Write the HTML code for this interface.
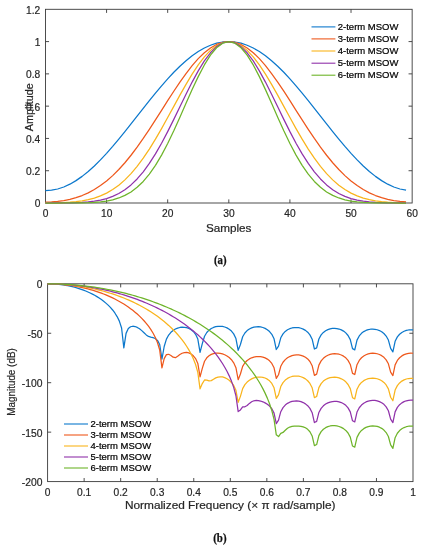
<!DOCTYPE html>
<html lang="en"><head><meta charset="utf-8"><title>MSOW windows</title>
<style>html,body{margin:0;padding:0;background:#fff}body{width:422px;height:550px;overflow:hidden}svg{display:block}</style></head>
<body>
<svg width="422" height="550" viewBox="0 0 422 550">
<defs><clipPath id="ca"><rect x="44.45" y="8.3" width="368.7" height="195.7"/></clipPath><clipPath id="cb"><rect x="46.6" y="282.8" width="367.4" height="199.8"/></clipPath></defs>
<rect width="422" height="550" fill="#fff"/>
<g stroke="#3a3a3a" stroke-width="0.9" fill="none">
<rect x="45.45" y="9.3" width="366.7" height="193.7"/>
<path d="M106.57 203v-3.6 M106.57 9.3v3.6 M167.68 203v-3.6 M167.68 9.3v3.6 M228.8 203v-3.6 M228.8 9.3v3.6 M289.92 203v-3.6 M289.92 9.3v3.6 M351.03 203v-3.6 M351.03 9.3v3.6 M45.45 170.72h3.6 M412.15 170.72h-3.6 M45.45 138.43h3.6 M412.15 138.43h-3.6 M45.45 106.15h3.6 M412.15 106.15h-3.6 M45.45 73.87h3.6 M412.15 73.87h-3.6 M45.45 41.58h3.6 M412.15 41.58h-3.6 "/>
</g>
<g fill="none" stroke-width="1.25" stroke-linejoin="round" clip-path="url(#ca)">
<path stroke="#0C78CC" d="M45.45 190.62 L51.56 190.21 L57.67 188.99 L63.78 186.97 L69.9 184.17 L76.01 180.63 L82.12 176.38 L88.23 171.48 L94.34 165.96 L100.45 159.9 L106.57 153.36 L112.68 146.41 L118.79 139.13 L124.9 131.59 L131.01 123.89 L137.12 116.1 L143.24 108.31 L149.35 100.61 L155.46 93.07 L161.57 85.79 L167.68 78.84 L173.8 72.3 L179.91 66.24 L186.02 60.72 L192.13 55.81 L198.24 51.57 L204.35 48.03 L210.46 45.23 L216.58 43.21 L222.69 41.99 L228.8 41.58 L234.91 41.99 L241.02 43.21 L247.13 45.23 L253.25 48.03 L259.36 51.57 L265.47 55.81 L271.58 60.72 L277.69 66.24 L283.81 72.3 L289.92 78.84 L296.03 85.79 L302.14 93.07 L308.25 100.61 L314.36 108.31 L320.47 116.1 L326.59 123.89 L332.7 131.59 L338.81 139.13 L344.92 146.41 L351.03 153.36 L357.14 159.9 L363.26 165.96 L369.37 171.48 L375.48 176.38 L381.59 180.63 L387.7 184.17 L393.81 186.97 L399.93 188.99 L406.04 190.21"/>
<path stroke="#EE581C" d="M45.45 202.14 L51.56 201.98 L57.67 201.48 L63.78 200.63 L69.9 199.38 L76.01 197.7 L82.12 195.54 L88.23 192.84 L94.34 189.54 L100.45 185.59 L106.57 180.96 L112.68 175.61 L118.79 169.53 L124.9 162.73 L131.01 155.25 L137.12 147.13 L143.24 138.47 L149.35 129.35 L155.46 119.91 L161.57 110.3 L167.68 100.68 L173.8 91.22 L179.91 82.1 L186.02 73.52 L192.13 65.65 L198.24 58.66 L204.35 52.7 L210.46 47.93 L216.58 44.43 L222.69 42.3 L228.8 41.58 L234.91 42.3 L241.02 44.43 L247.13 47.93 L253.25 52.7 L259.36 58.66 L265.47 65.65 L271.58 73.52 L277.69 82.1 L283.81 91.22 L289.92 100.68 L296.03 110.3 L302.14 119.91 L308.25 129.35 L314.36 138.47 L320.47 147.13 L326.59 155.25 L332.7 162.73 L338.81 169.53 L344.92 175.61 L351.03 180.96 L357.14 185.59 L363.26 189.54 L369.37 192.84 L375.48 195.54 L381.59 197.7 L387.7 199.38 L393.81 200.63 L399.93 201.48 L406.04 201.98"/>
<path stroke="#F9B41C" d="M45.45 202.94 L51.56 202.91 L57.67 202.79 L63.78 202.58 L69.9 202.22 L76.01 201.67 L82.12 200.85 L88.23 199.68 L94.34 198.06 L100.45 195.9 L106.57 193.1 L112.68 189.55 L118.79 185.16 L124.9 179.86 L131.01 173.6 L137.12 166.36 L143.24 158.16 L149.35 149.05 L155.46 139.14 L161.57 128.58 L167.68 117.57 L173.8 106.35 L179.91 95.17 L186.02 84.34 L192.13 74.15 L198.24 64.9 L204.35 56.89 L210.46 50.37 L216.58 45.54 L222.69 42.58 L228.8 41.58 L234.91 42.58 L241.02 45.54 L247.13 50.37 L253.25 56.89 L259.36 64.9 L265.47 74.15 L271.58 84.34 L277.69 95.17 L283.81 106.35 L289.92 117.57 L296.03 128.58 L302.14 139.14 L308.25 149.05 L314.36 158.16 L320.47 166.36 L326.59 173.6 L332.7 179.86 L338.81 185.16 L344.92 189.55 L351.03 193.1 L357.14 195.9 L363.26 198.06 L369.37 199.68 L375.48 200.85 L381.59 201.67 L387.7 202.22 L393.81 202.58 L399.93 202.79 L406.04 202.91"/>
<path stroke="#9032AA" d="M45.45 203 L51.56 202.99 L57.67 202.97 L63.78 202.93 L69.9 202.84 L76.01 202.67 L82.12 202.39 L88.23 201.92 L94.34 201.19 L100.45 200.11 L106.57 198.55 L112.68 196.39 L118.79 193.48 L124.9 189.7 L131.01 184.89 L137.12 178.96 L143.24 171.82 L149.35 163.46 L155.46 153.89 L161.57 143.23 L167.68 131.64 L173.8 119.39 L179.91 106.78 L186.02 94.21 L192.13 82.09 L198.24 70.85 L204.35 60.94 L210.46 52.76 L216.58 46.64 L222.69 42.86 L228.8 41.58 L234.91 42.86 L241.02 46.64 L247.13 52.76 L253.25 60.94 L259.36 70.85 L265.47 82.09 L271.58 94.21 L277.69 106.78 L283.81 119.39 L289.92 131.64 L296.03 143.23 L302.14 153.89 L308.25 163.46 L314.36 171.82 L320.47 178.96 L326.59 184.89 L332.7 189.7 L338.81 193.48 L344.92 196.39 L351.03 198.55 L357.14 200.11 L363.26 201.19 L369.37 201.92 L375.48 202.39 L381.59 202.67 L387.7 202.84 L393.81 202.93 L399.93 202.97 L406.04 202.99"/>
<path stroke="#6EB42A" d="M45.45 203 L51.56 203 L57.67 203 L63.78 202.99 L69.9 202.97 L76.01 202.92 L82.12 202.83 L88.23 202.66 L94.34 202.35 L100.45 201.84 L106.57 201.03 L112.68 199.79 L118.79 197.97 L124.9 195.41 L131.01 191.92 L137.12 187.32 L143.24 181.43 L149.35 174.13 L155.46 165.36 L161.57 155.12 L167.68 143.53 L173.8 130.8 L179.91 117.26 L186.02 103.36 L192.13 89.62 L198.24 76.61 L204.35 64.92 L210.46 55.13 L216.58 47.75 L222.69 43.15 L228.8 41.58 L234.91 43.15 L241.02 47.75 L247.13 55.13 L253.25 64.92 L259.36 76.61 L265.47 89.62 L271.58 103.36 L277.69 117.26 L283.81 130.8 L289.92 143.53 L296.03 155.12 L302.14 165.36 L308.25 174.13 L314.36 181.43 L320.47 187.32 L326.59 191.92 L332.7 195.41 L338.81 197.97 L344.92 199.79 L351.03 201.03 L357.14 201.84 L363.26 202.35 L369.37 202.66 L375.48 202.83 L381.59 202.92 L387.7 202.97 L393.81 202.99 L399.93 203 L406.04 203"/>
</g>
<g stroke="#3a3a3a" stroke-width="0.9" fill="none">
<rect x="47.6" y="283.8" width="365.4" height="197.8"/>
<path d="M84.14 481.6v-3.6 M84.14 283.8v3.6 M120.68 481.6v-3.6 M120.68 283.8v3.6 M157.22 481.6v-3.6 M157.22 283.8v3.6 M193.76 481.6v-3.6 M193.76 283.8v3.6 M230.3 481.6v-3.6 M230.3 283.8v3.6 M266.84 481.6v-3.6 M266.84 283.8v3.6 M303.38 481.6v-3.6 M303.38 283.8v3.6 M339.92 481.6v-3.6 M339.92 283.8v3.6 M376.46 481.6v-3.6 M376.46 283.8v3.6 M47.6 333.25h3.6 M413 333.25h-3.6 M47.6 382.7h3.6 M413 382.7h-3.6 M47.6 432.15h3.6 M413 432.15h-3.6 "/>
</g>
<g fill="none" stroke-width="1.25" stroke-linejoin="round" clip-path="url(#cb)">
<path stroke="#0C78CC" d="M47.6 283.8 L49.84 283.82 L52.08 283.89 L54.33 284.01 L56.57 284.17 L58.81 284.38 L61.05 284.64 L63.29 284.95 L65.54 285.31 L67.78 285.72 L70.02 286.18 L72.26 286.69 L74.5 287.26 L76.75 287.89 L78.99 288.57 L81.23 289.32 L83.47 290.13 L85.72 291.01 L87.96 291.97 L90.2 293 L92.44 294.12 L94.68 295.32 L96.93 296.63 L99.17 298.05 L101.41 299.58 L103.65 301.26 L105.89 303.11 L108.14 305.14 L110.38 307.41 L112.62 309.99 L114.86 312.97 L117.1 316.55 L119.35 321.14 L121.59 327.96 L123.83 347.84 L126.07 333.37 L128.31 328.53 L130.56 326.74 L132.8 326.24 L135.04 326.53 L137.28 327.41 L139.52 328.81 L141.77 330.64 L144.01 332.78 L146.25 334.9 L148.49 336.46 L150.74 337.21 L152.98 337.66 L155.22 338.51 L157.46 340.41 L159.7 344.52 L161.95 359.05 L164.19 346.5 L166.43 339.1 L168.67 335.05 L170.91 332.34 L173.16 330.41 L175.4 329.04 L177.64 328.08 L179.88 327.49 L182.12 327.23 L184.37 327.29 L186.61 327.68 L188.85 328.44 L191.09 329.65 L193.33 331.48 L195.58 334.27 L197.82 339.03 L200.06 352.29 L202.3 343.57 L204.54 336.27 L206.79 332.55 L209.03 330.17 L211.27 328.55 L213.51 327.44 L215.75 326.72 L218 326.33 L220.24 326.25 L222.48 326.47 L224.72 326.99 L226.97 327.87 L229.21 329.18 L231.45 331.07 L233.69 333.88 L235.93 338.53 L238.18 350.39 L240.42 344.48 L242.66 336.76 L244.9 332.97 L247.14 330.58 L249.39 328.97 L251.63 327.87 L253.87 327.17 L256.11 326.81 L258.35 326.74 L260.6 326.97 L262.84 327.5 L265.08 328.38 L267.32 329.68 L269.56 331.55 L271.81 334.3 L274.05 338.79 L276.29 349.51 L278.53 346.08 L280.77 337.81 L283.02 333.89 L285.26 331.45 L287.5 329.81 L289.74 328.69 L291.99 327.98 L294.23 327.6 L296.47 327.52 L298.71 327.73 L300.95 328.25 L303.2 329.11 L305.44 330.38 L307.68 332.21 L309.92 334.89 L312.16 339.21 L314.41 349 L316.65 347.9 L318.89 338.98 L321.13 334.91 L323.37 332.41 L325.62 330.72 L327.86 329.57 L330.1 328.83 L332.34 328.43 L334.58 328.33 L336.83 328.53 L339.07 329.02 L341.31 329.86 L343.55 331.1 L345.79 332.88 L348.04 335.48 L350.28 339.64 L352.52 348.66 L354.76 349.85 L357.01 340.15 L359.25 335.93 L361.49 333.34 L363.73 331.61 L365.97 330.43 L368.22 329.66 L370.46 329.24 L372.7 329.12 L374.94 329.29 L377.18 329.76 L379.43 330.57 L381.67 331.77 L383.91 333.51 L386.15 336.04 L388.39 340.05 L390.64 348.41 L392.88 351.93 L395.12 341.29 L397.36 336.89 L399.6 334.23 L401.85 332.45 L404.09 331.24 L406.33 330.44 L408.57 329.99 L410.81 329.85 L413.06 329.99"/>
<path stroke="#EE581C" d="M47.6 283.8 L49.84 283.82 L52.08 283.86 L54.33 283.94 L56.57 284.05 L58.81 284.18 L61.05 284.35 L63.29 284.55 L65.54 284.79 L67.78 285.05 L70.02 285.35 L72.26 285.67 L74.5 286.04 L76.75 286.43 L78.99 286.86 L81.23 287.32 L83.47 287.82 L85.72 288.35 L87.96 288.93 L90.2 289.53 L92.44 290.18 L94.68 290.86 L96.93 291.59 L99.17 292.36 L101.41 293.17 L103.65 294.02 L105.89 294.93 L108.14 295.88 L110.38 296.88 L112.62 297.93 L114.86 299.04 L117.1 300.2 L119.35 301.43 L121.59 302.72 L123.83 304.09 L126.07 305.53 L128.31 307.04 L130.56 308.65 L132.8 310.35 L135.04 312.16 L137.28 314.08 L139.52 316.14 L141.77 318.35 L144.01 320.74 L146.25 323.34 L148.49 326.19 L150.74 329.38 L152.98 332.99 L155.22 337.24 L157.46 342.52 L159.7 349.97 L161.95 367.8 L164.19 358.6 L166.43 354.66 L168.67 354.28 L170.91 355.45 L173.16 357.18 L175.4 357.71 L177.64 356.32 L179.88 354.54 L182.12 353.25 L184.37 352.57 L186.61 352.47 L188.85 352.93 L191.09 353.99 L193.33 355.77 L195.58 358.59 L197.82 363.46 L200.06 376.87 L202.3 368.35 L204.54 361.28 L206.79 357.81 L209.03 355.72 L211.27 354.39 L213.51 353.59 L215.75 353.19 L218 353.13 L220.24 353.37 L222.48 353.91 L224.72 354.76 L226.97 355.94 L229.21 357.55 L231.45 359.72 L233.69 362.78 L235.93 367.67 L238.18 379.74 L240.42 374.01 L242.66 366.43 L244.9 362.76 L247.14 360.45 L249.39 358.89 L251.63 357.81 L253.87 357.1 L256.11 356.7 L258.35 356.57 L260.6 356.72 L262.84 357.15 L265.08 357.92 L267.32 359.09 L269.56 360.82 L271.81 363.42 L274.05 367.76 L276.29 378.32 L278.53 374.73 L280.77 366.3 L283.02 362.22 L285.26 359.62 L287.5 357.82 L289.74 356.55 L291.99 355.68 L294.23 355.15 L296.47 354.92 L298.71 354.99 L300.95 355.37 L303.2 356.09 L305.44 357.23 L307.68 358.92 L309.92 361.47 L312.16 365.67 L314.41 375.34 L316.65 374.12 L318.89 365.08 L321.13 360.91 L323.37 358.29 L325.62 356.5 L327.86 355.25 L330.1 354.41 L332.34 353.91 L334.58 353.72 L336.83 353.82 L339.07 354.23 L341.31 354.97 L343.55 356.13 L345.79 357.83 L348.04 360.35 L350.28 364.43 L352.52 373.38 L354.76 374.49 L357.01 364.72 L359.25 360.43 L361.49 357.77 L363.73 355.98 L365.97 354.73 L368.22 353.9 L370.46 353.42 L372.7 353.24 L374.94 353.35 L377.18 353.76 L379.43 354.52 L381.67 355.67 L383.91 357.35 L386.15 359.83 L388.39 363.79 L390.64 372.1 L392.88 375.57 L395.12 364.89 L397.36 360.44 L399.6 357.73 L401.85 355.91 L404.09 354.65 L406.33 353.82 L408.57 353.33 L410.81 353.14 L413.06 353.25"/>
<path stroke="#F9B41C" d="M47.6 283.8 L49.84 283.81 L52.08 283.85 L54.33 283.9 L56.57 283.98 L58.81 284.09 L61.05 284.22 L63.29 284.37 L65.54 284.54 L67.78 284.74 L70.02 284.96 L72.26 285.2 L74.5 285.47 L76.75 285.76 L78.99 286.08 L81.23 286.42 L83.47 286.79 L85.72 287.18 L87.96 287.6 L90.2 288.04 L92.44 288.51 L94.68 289 L96.93 289.52 L99.17 290.07 L101.41 290.65 L103.65 291.25 L105.89 291.88 L108.14 292.54 L110.38 293.23 L112.62 293.96 L114.86 294.71 L117.1 295.49 L119.35 296.31 L121.59 297.16 L123.83 298.04 L126.07 298.96 L128.31 299.92 L130.56 300.91 L132.8 301.94 L135.04 303.02 L137.28 304.13 L139.52 305.29 L141.77 306.49 L144.01 307.74 L146.25 309.04 L148.49 310.38 L150.74 311.79 L152.98 313.25 L155.22 314.77 L157.46 316.35 L159.7 318.01 L161.95 319.73 L164.19 321.54 L166.43 323.43 L168.67 325.41 L170.91 327.5 L173.16 329.7 L175.4 332.02 L177.64 334.48 L179.88 337.11 L182.12 339.92 L184.37 342.96 L186.61 346.26 L188.85 349.91 L191.09 354.01 L193.33 358.75 L195.58 364.52 L197.82 372.37 L200.06 388.87 L202.3 383.61 L204.54 379.99 L206.79 380.04 L209.03 380.85 L211.27 380.59 L213.51 379.25 L215.75 377.91 L218 377.07 L220.24 376.77 L222.48 376.96 L224.72 377.62 L226.97 378.72 L229.21 380.29 L231.45 382.45 L233.69 385.49 L235.93 390.32 L238.18 402.27 L240.42 396.37 L242.66 388.57 L244.9 384.64 L247.14 382.06 L249.39 380.22 L251.63 378.88 L253.87 377.92 L256.11 377.31 L258.35 377 L260.6 377 L262.84 377.32 L265.08 378.01 L267.32 379.13 L269.56 380.84 L271.81 383.45 L274.05 387.81 L276.29 398.42 L278.53 394.9 L280.77 386.55 L283.02 382.57 L285.26 380.07 L287.5 378.38 L289.74 377.23 L291.99 376.49 L294.23 376.1 L296.47 376.01 L298.71 376.22 L300.95 376.74 L303.2 377.61 L305.44 378.89 L307.68 380.73 L309.92 383.43 L312.16 387.78 L314.41 397.59 L316.65 396.52 L318.89 387.63 L321.13 383.59 L323.37 381.12 L325.62 379.46 L327.86 378.35 L330.1 377.64 L332.34 377.27 L334.58 377.2 L336.83 377.42 L339.07 377.94 L341.31 378.8 L343.55 380.06 L345.79 381.86 L348.04 384.48 L350.28 388.66 L352.52 397.69 L354.76 398.89 L357.01 389.2 L359.25 384.98 L361.49 382.4 L363.73 380.67 L365.97 379.48 L368.22 378.71 L370.46 378.28 L372.7 378.14 L374.94 378.3 L377.18 378.75 L379.43 379.54 L381.67 380.73 L383.91 382.44 L386.15 384.94 L388.39 388.92 L390.64 397.25 L392.88 400.73 L395.12 390.06 L397.36 385.63 L399.6 382.92 L401.85 381.1 L404.09 379.85 L406.33 379.01 L408.57 378.51 L410.81 378.32 L413.06 378.42"/>
<path stroke="#9032AA" d="M47.6 283.8 L49.84 283.81 L52.08 283.84 L54.33 283.88 L56.57 283.95 L58.81 284.03 L61.05 284.13 L63.29 284.25 L65.54 284.39 L67.78 284.55 L70.02 284.72 L72.26 284.92 L74.5 285.13 L76.75 285.37 L78.99 285.62 L81.23 285.89 L83.47 286.18 L85.72 286.49 L87.96 286.82 L90.2 287.17 L92.44 287.54 L94.68 287.93 L96.93 288.34 L99.17 288.77 L101.41 289.22 L103.65 289.69 L105.89 290.18 L108.14 290.69 L110.38 291.23 L112.62 291.78 L114.86 292.36 L117.1 292.97 L119.35 293.59 L121.59 294.24 L123.83 294.91 L126.07 295.6 L128.31 296.32 L130.56 297.06 L132.8 297.83 L135.04 298.63 L137.28 299.45 L139.52 300.3 L141.77 301.17 L144.01 302.07 L146.25 303 L148.49 303.96 L150.74 304.95 L152.98 305.97 L155.22 307.03 L157.46 308.11 L159.7 309.23 L161.95 310.38 L164.19 311.57 L166.43 312.8 L168.67 314.06 L170.91 315.36 L173.16 316.71 L175.4 318.09 L177.64 319.52 L179.88 321 L182.12 322.53 L184.37 324.11 L186.61 325.74 L188.85 327.42 L191.09 329.17 L193.33 330.98 L195.58 332.86 L197.82 334.81 L200.06 336.84 L202.3 338.96 L204.54 341.16 L206.79 343.46 L209.03 345.87 L211.27 348.4 L213.51 351.07 L215.75 353.88 L218 356.87 L220.24 360.06 L222.48 363.49 L224.72 367.21 L226.97 371.3 L229.21 375.86 L231.45 381.1 L233.69 387.4 L235.93 395.74 L238.18 411.57 L240.42 409.98 L242.66 406.81 L244.9 406.78 L247.14 405.54 L249.39 403.4 L251.63 401.74 L253.87 400.79 L256.11 400.44 L258.35 400.56 L260.6 401.03 L262.84 401.8 L265.08 402.86 L267.32 404.24 L269.56 406.1 L271.81 408.76 L274.05 413.12 L276.29 423.69 L278.53 420.1 L280.77 411.68 L283.02 407.63 L285.26 405.08 L287.5 403.36 L289.74 402.18 L291.99 401.43 L294.23 401.03 L296.47 400.95 L298.71 401.17 L300.95 401.7 L303.2 402.58 L305.44 403.87 L307.68 405.72 L309.92 408.41 L312.16 412.73 L314.41 422.52 L316.65 421.42 L318.89 412.47 L321.13 408.37 L323.37 405.81 L325.62 404.07 L327.86 402.85 L330.1 402.04 L332.34 401.55 L334.58 401.35 L336.83 401.45 L339.07 401.84 L341.31 402.56 L343.55 403.69 L345.79 405.36 L348.04 407.85 L350.28 411.9 L352.52 420.8 L354.76 421.88 L357.01 412.08 L359.25 407.74 L361.49 405.05 L363.73 403.22 L365.97 401.94 L368.22 401.08 L370.46 400.57 L372.7 400.36 L374.94 400.45 L377.18 400.84 L379.43 401.57 L381.67 402.7 L383.91 404.37 L386.15 406.83 L388.39 410.78 L390.64 419.08 L392.88 422.54 L395.12 411.85 L397.36 407.4 L399.6 404.69 L401.85 402.86 L404.09 401.61 L406.33 400.77 L408.57 400.28 L410.81 400.1 L413.06 400.22"/>
<path stroke="#6EB42A" d="M47.6 283.8 L49.84 283.81 L52.08 283.83 L54.33 283.87 L56.57 283.92 L58.81 283.99 L61.05 284.08 L63.29 284.18 L65.54 284.29 L67.78 284.42 L70.02 284.57 L72.26 284.73 L74.5 284.91 L76.75 285.1 L78.99 285.31 L81.23 285.53 L83.47 285.77 L85.72 286.03 L87.96 286.3 L90.2 286.59 L92.44 286.9 L94.68 287.22 L96.93 287.55 L99.17 287.91 L101.41 288.28 L103.65 288.66 L105.89 289.07 L108.14 289.49 L110.38 289.92 L112.62 290.38 L114.86 290.85 L117.1 291.34 L119.35 291.85 L121.59 292.37 L123.83 292.92 L126.07 293.48 L128.31 294.06 L130.56 294.66 L132.8 295.27 L135.04 295.91 L137.28 296.57 L139.52 297.24 L141.77 297.94 L144.01 298.65 L146.25 299.39 L148.49 300.15 L150.74 300.92 L152.98 301.72 L155.22 302.54 L157.46 303.39 L159.7 304.25 L161.95 305.14 L164.19 306.06 L166.43 306.99 L168.67 307.95 L170.91 308.94 L173.16 309.95 L175.4 310.99 L177.64 312.05 L179.88 313.14 L182.12 314.26 L184.37 315.41 L186.61 316.59 L188.85 317.8 L191.09 319.03 L193.33 320.31 L195.58 321.61 L197.82 322.95 L200.06 324.32 L202.3 325.73 L204.54 327.18 L206.79 328.67 L209.03 330.2 L211.27 331.77 L213.51 333.38 L215.75 335.05 L218 336.76 L220.24 338.52 L222.48 340.33 L224.72 342.2 L226.97 344.14 L229.21 346.13 L231.45 348.19 L233.69 350.32 L235.93 352.53 L238.18 354.82 L240.42 357.2 L242.66 359.68 L244.9 362.26 L247.14 364.96 L249.39 367.79 L251.63 370.76 L253.87 373.89 L256.11 377.21 L258.35 380.75 L260.6 384.54 L262.84 388.64 L265.08 393.13 L267.32 398.13 L269.56 403.82 L271.81 410.6 L274.05 419.4 L276.29 434.82 L278.53 436.53 L280.77 433.36 L283.02 432.44 L285.26 430.2 L287.5 428.23 L289.74 427.04 L291.99 426.45 L294.23 426.19 L296.47 426.1 L298.71 426.13 L300.95 426.34 L303.2 426.85 L305.44 427.78 L307.68 429.32 L309.92 431.78 L312.16 435.95 L314.41 445.66 L316.65 444.54 L318.89 435.64 L321.13 431.64 L323.37 429.22 L325.62 427.64 L327.86 426.61 L330.1 425.99 L332.34 425.69 L334.58 425.69 L336.83 425.95 L339.07 426.5 L341.31 427.37 L343.55 428.62 L345.79 430.39 L348.04 432.97 L350.28 437.09 L352.52 446.05 L354.76 447.18 L357.01 437.41 L359.25 433.11 L361.49 430.46 L363.73 428.65 L365.97 427.41 L368.22 426.57 L370.46 426.08 L372.7 425.9 L374.94 426.02 L377.18 426.44 L379.43 427.2 L381.67 428.37 L383.91 430.06 L386.15 432.56 L388.39 436.53 L390.64 444.87 L392.88 448.35 L395.12 437.7 L397.36 433.27 L399.6 430.58 L401.85 428.78 L404.09 427.54 L406.33 426.72 L408.57 426.24 L410.81 426.07 L413.06 426.19"/>
</g>
<g font-family="'Liberation Sans', Arial, Helvetica, sans-serif" fill="#262626" stroke="#262626" stroke-width="0.2" font-size="10.2">
<text x="45.55" y="217.3" text-anchor="middle" textLength="5.67" lengthAdjust="spacingAndGlyphs">0</text>
<text x="106.67" y="217.3" text-anchor="middle" textLength="11.34" lengthAdjust="spacingAndGlyphs">10</text>
<text x="167.78" y="217.3" text-anchor="middle" textLength="11.34" lengthAdjust="spacingAndGlyphs">20</text>
<text x="228.9" y="217.3" text-anchor="middle" textLength="11.34" lengthAdjust="spacingAndGlyphs">30</text>
<text x="290.02" y="217.3" text-anchor="middle" textLength="11.34" lengthAdjust="spacingAndGlyphs">40</text>
<text x="351.13" y="217.3" text-anchor="middle" textLength="11.34" lengthAdjust="spacingAndGlyphs">50</text>
<text x="412.25" y="217.3" text-anchor="middle" textLength="11.34" lengthAdjust="spacingAndGlyphs">60</text>
<text x="40.3" y="207.4" text-anchor="end" textLength="5.67" lengthAdjust="spacingAndGlyphs">0</text>
<text x="40.3" y="175.12" text-anchor="end" textLength="14.18" lengthAdjust="spacingAndGlyphs">0.2</text>
<text x="40.3" y="142.83" text-anchor="end" textLength="14.18" lengthAdjust="spacingAndGlyphs">0.4</text>
<text x="40.3" y="110.55" text-anchor="end" textLength="14.18" lengthAdjust="spacingAndGlyphs">0.6</text>
<text x="40.3" y="78.27" text-anchor="end" textLength="14.18" lengthAdjust="spacingAndGlyphs">0.8</text>
<text x="40.3" y="45.98" text-anchor="end" textLength="5.67" lengthAdjust="spacingAndGlyphs">1</text>
<text x="40.3" y="13.7" text-anchor="end" textLength="14.18" lengthAdjust="spacingAndGlyphs">1.2</text>
<text x="47.6" y="496.3" text-anchor="middle" textLength="5.67" lengthAdjust="spacingAndGlyphs">0</text>
<text x="84.14" y="496.3" text-anchor="middle" textLength="14.18" lengthAdjust="spacingAndGlyphs">0.1</text>
<text x="120.68" y="496.3" text-anchor="middle" textLength="14.18" lengthAdjust="spacingAndGlyphs">0.2</text>
<text x="157.22" y="496.3" text-anchor="middle" textLength="14.18" lengthAdjust="spacingAndGlyphs">0.3</text>
<text x="193.76" y="496.3" text-anchor="middle" textLength="14.18" lengthAdjust="spacingAndGlyphs">0.4</text>
<text x="230.3" y="496.3" text-anchor="middle" textLength="14.18" lengthAdjust="spacingAndGlyphs">0.5</text>
<text x="266.84" y="496.3" text-anchor="middle" textLength="14.18" lengthAdjust="spacingAndGlyphs">0.6</text>
<text x="303.38" y="496.3" text-anchor="middle" textLength="14.18" lengthAdjust="spacingAndGlyphs">0.7</text>
<text x="339.92" y="496.3" text-anchor="middle" textLength="14.18" lengthAdjust="spacingAndGlyphs">0.8</text>
<text x="376.46" y="496.3" text-anchor="middle" textLength="14.18" lengthAdjust="spacingAndGlyphs">0.9</text>
<text x="413" y="496.3" text-anchor="middle" textLength="5.67" lengthAdjust="spacingAndGlyphs">1</text>
<text x="42.5" y="288.2" text-anchor="end" textLength="5.67" lengthAdjust="spacingAndGlyphs">0</text>
<text x="42.5" y="337.65" text-anchor="end" textLength="15.01" lengthAdjust="spacingAndGlyphs">-50</text>
<text x="42.5" y="387.1" text-anchor="end" textLength="20.69" lengthAdjust="spacingAndGlyphs">-100</text>
<text x="42.5" y="436.55" text-anchor="end" textLength="20.69" lengthAdjust="spacingAndGlyphs">-150</text>
<text x="42.5" y="486" text-anchor="end" textLength="20.69" lengthAdjust="spacingAndGlyphs">-200</text>
<text x="228.7" y="232.1" text-anchor="middle" font-size="10.8" textLength="45.6" lengthAdjust="spacingAndGlyphs" stroke="#262626" stroke-width="0.2" fill="#262626">Samples</text>
<text x="230.2" y="508.9" text-anchor="middle" font-size="10.8" textLength="210.5" lengthAdjust="spacingAndGlyphs" stroke="#262626" stroke-width="0.2" fill="#262626">Normalized Frequency (× π rad/sample)</text>
<text transform="translate(32.9,107.2) rotate(-90)" text-anchor="middle" font-size="10.8" textLength="48" lengthAdjust="spacingAndGlyphs" stroke="#262626" stroke-width="0.2" fill="#262626">Amplitude</text>
<text transform="translate(14.9,382) rotate(-90)" text-anchor="middle" font-size="10.3" textLength="67.6" lengthAdjust="spacingAndGlyphs" stroke="#262626" stroke-width="0.2" fill="#262626">Magnitude (dB)</text>
<path d="M311.5 26.9H335.4" stroke="#0C78CC" stroke-width="1.1" fill="none"/>
<text x="337.8" y="30.1" text-anchor="start" font-size="9.1" textLength="60.6" lengthAdjust="spacingAndGlyphs" fill="#000" stroke="#000" stroke-width="0.2">2-term MSOW</text>
<path d="M311.5 38.9H335.4" stroke="#EE581C" stroke-width="1.1" fill="none"/>
<text x="337.8" y="42.1" text-anchor="start" font-size="9.1" textLength="60.6" lengthAdjust="spacingAndGlyphs" fill="#000" stroke="#000" stroke-width="0.2">3-term MSOW</text>
<path d="M311.5 51H335.4" stroke="#F9B41C" stroke-width="1.1" fill="none"/>
<text x="337.8" y="54.2" text-anchor="start" font-size="9.1" textLength="60.6" lengthAdjust="spacingAndGlyphs" fill="#000" stroke="#000" stroke-width="0.2">4-term MSOW</text>
<path d="M311.5 63.2H335.4" stroke="#9032AA" stroke-width="1.1" fill="none"/>
<text x="337.8" y="66.4" text-anchor="start" font-size="9.1" textLength="60.6" lengthAdjust="spacingAndGlyphs" fill="#000" stroke="#000" stroke-width="0.2">5-term MSOW</text>
<path d="M311.5 75.2H335.4" stroke="#6EB42A" stroke-width="1.1" fill="none"/>
<text x="337.8" y="78.4" text-anchor="start" font-size="9.1" textLength="60.6" lengthAdjust="spacingAndGlyphs" fill="#000" stroke="#000" stroke-width="0.2">6-term MSOW</text>
<path d="M64 424H88" stroke="#0C78CC" stroke-width="1.1" fill="none"/>
<text x="90.5" y="427.2" text-anchor="start" font-size="9.1" textLength="60.6" lengthAdjust="spacingAndGlyphs" fill="#000" stroke="#000" stroke-width="0.2">2-term MSOW</text>
<path d="M64 435H88" stroke="#EE581C" stroke-width="1.1" fill="none"/>
<text x="90.5" y="438.2" text-anchor="start" font-size="9.1" textLength="60.6" lengthAdjust="spacingAndGlyphs" fill="#000" stroke="#000" stroke-width="0.2">3-term MSOW</text>
<path d="M64 446H88" stroke="#F9B41C" stroke-width="1.1" fill="none"/>
<text x="90.5" y="449.2" text-anchor="start" font-size="9.1" textLength="60.6" lengthAdjust="spacingAndGlyphs" fill="#000" stroke="#000" stroke-width="0.2">4-term MSOW</text>
<path d="M64 457H88" stroke="#9032AA" stroke-width="1.1" fill="none"/>
<text x="90.5" y="460.2" text-anchor="start" font-size="9.1" textLength="60.6" lengthAdjust="spacingAndGlyphs" fill="#000" stroke="#000" stroke-width="0.2">5-term MSOW</text>
<path d="M64 468H88" stroke="#6EB42A" stroke-width="1.1" fill="none"/>
<text x="90.5" y="471.2" text-anchor="start" font-size="9.1" textLength="60.6" lengthAdjust="spacingAndGlyphs" fill="#000" stroke="#000" stroke-width="0.2">6-term MSOW</text>
</g>
<g font-family="'Liberation Serif', 'Times New Roman', serif" font-weight="bold" font-size="11.6" fill="#111" stroke="#111" stroke-width="0.25" text-anchor="middle">
<text x="220.2" y="263.8" textLength="12.6" lengthAdjust="spacingAndGlyphs">(a)</text>
<text x="219.9" y="541.6" textLength="13.3" lengthAdjust="spacingAndGlyphs">(b)</text>
</g>
</svg>
</body></html>
